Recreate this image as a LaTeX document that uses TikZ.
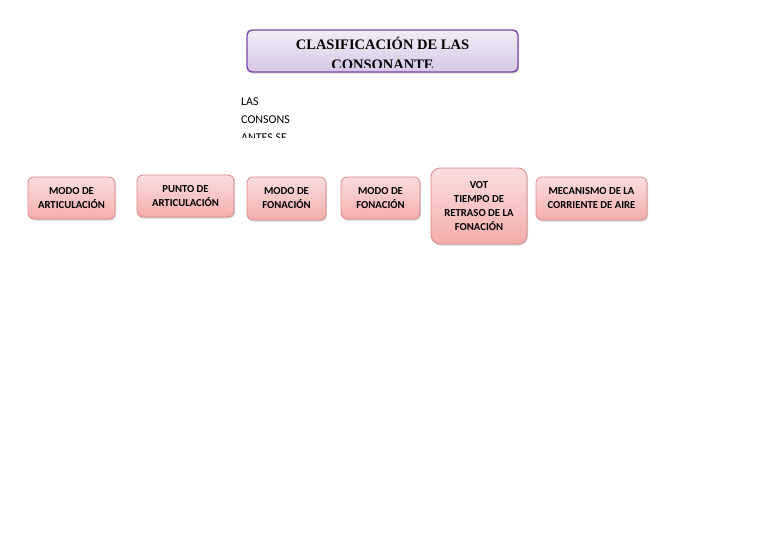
\documentclass[tikz,border=0pt]{standalone}
\usepackage{fontspec}
\setmainfont{Carlito}[BoldFont={Carlito Bold}]
\newfontfamily\titlefont{Liberation Serif}
\usetikzlibrary{shadows}
\definecolor{pinkborder}{HTML}{DA8C8A}
\definecolor{pinktop}{HTML}{FBDCDC}
\definecolor{pinkbot}{HTML}{F3ACAB}
\definecolor{purpborder}{HTML}{7A45A8}
\tikzset{
  x=1pt, y=-1pt,
  pinkbox/.style={draw=pinkborder, line width=0.8pt, rounded corners=6pt,
    top color=pinktop, bottom color=pinkbot, middle color=pinktop!55!pinkbot,
    drop shadow={shadow xshift=1pt, shadow yshift=-1.5pt, opacity=0.35},
    align=center, font=\fontsize{10.7}{14}\selectfont\bfseries, inner sep=0pt},
  titlebox/.style={draw=purpborder, line width=1.4pt, rounded corners=5pt,
    top color=white!90!purpborder, bottom color=purpborder!30,
    drop shadow={shadow xshift=1pt, shadow yshift=-1.5pt, opacity=0.3}},
}
\begin{document}
\begin{tikzpicture}
\useasboundingbox (0,0) rectangle (768,543);
% title
\path[titlebox] (247,30) rectangle (518,72);
\begin{scope}
\clip (249,32) rectangle (516,67.5);
\node[font=\titlefont\fontsize{14.5}{20}\selectfont\bfseries, align=center, inner sep=0pt, anchor=north] (title) at (382.5,37) {CLASIFICACIÓN DE LAS\\CONSONANTE};
\end{scope}
% side text
\begin{scope}
\clip (235,92) rectangle (320,137);
\node[font=\fontsize{12}{18}\selectfont, align=left, inner sep=0pt, anchor=north west] (side) at (241,98) {LAS\\CONSONS\\ANTES SE};
\end{scope}
% boxes
\node[pinkbox, minimum width=87pt, minimum height=42pt] (b1) at (71.5,198) {MODO DE\\ARTICULACIÓN};
\node[pinkbox, minimum width=97pt, minimum height=42pt] (b2) at (185.5,196) {PUNTO DE\\ARTICULACIÓN};
\node[pinkbox, minimum width=79pt, minimum height=43pt] (b3) at (286.5,198.5) {MODO DE\\FONACIÓN};
\node[pinkbox, minimum width=79pt, minimum height=42pt] (b4) at (380.5,198) {MODO DE\\FONACIÓN};
\node[pinkbox, minimum width=96pt, minimum height=76pt, rounded corners=9pt] (b5) at (479,206) {VOT\\TIEMPO DE\\RETRASO DE LA\\FONACIÓN};
\node[pinkbox, minimum width=111pt, minimum height=43pt] (b6) at (591.5,198.5) {MECANISMO DE LA\\CORRIENTE DE AIRE};
\end{tikzpicture}
\end{document}
